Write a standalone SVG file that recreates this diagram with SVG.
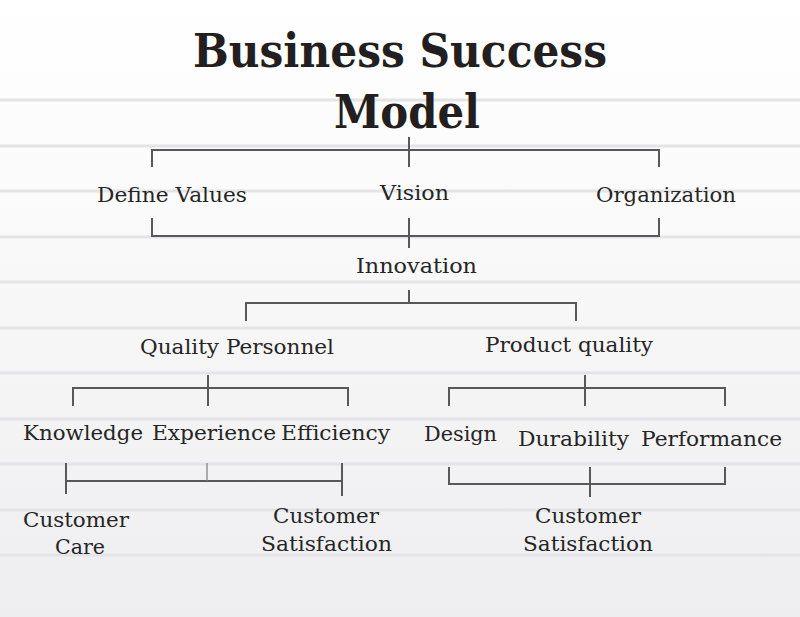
<svg xmlns="http://www.w3.org/2000/svg" width="800" height="617" viewBox="0 0 800 617">
<defs>
<linearGradient id="bg" x1="0" y1="0" x2="0" y2="1">
<stop offset="0" stop-color="#ffffff"/>
<stop offset="0.35" stop-color="#fafafa"/>
<stop offset="1" stop-color="#eeedef"/>
</linearGradient>
</defs>
<style>
.rule{stroke:#e4e4e6;stroke-width:3}
.c{stroke:#58585a;stroke-width:2;fill:none}
.thin{stroke:#7a7a7c;stroke-width:1.2;fill:none}
.t{font-family:"DejaVu Serif","Liberation Serif",serif;font-size:20px;fill:#252525}
.l{font-size:21px}
.title{font-family:"DejaVu Serif","Liberation Serif",serif;font-size:47px;font-weight:bold;fill:#231f20}
</style>
<rect width="800" height="617" fill="url(#bg)"/>
<g id="paper-lines">
<line class="rule" x1="0" y1="100" x2="800" y2="100"/>
<line class="rule" x1="0" y1="146" x2="800" y2="146"/>
<line class="rule" x1="0" y1="191" x2="800" y2="191"/>
<line class="rule" x1="0" y1="237" x2="800" y2="237"/>
<line class="rule" x1="0" y1="282" x2="800" y2="282"/>
<line class="rule" x1="0" y1="328" x2="800" y2="328"/>
<line class="rule" x1="0" y1="373" x2="800" y2="373"/>
<line class="rule" x1="0" y1="419" x2="800" y2="419"/>
<line class="rule" x1="0" y1="464" x2="800" y2="464"/>
<line class="rule" x1="0" y1="510" x2="800" y2="510"/>
<line class="rule" x1="0" y1="555" x2="800" y2="555"/>
</g>
<g id="connectors">
<path class="c" d="M409 137V150M152 167V150H659V167M409 150V167"/>
<path class="c" d="M152 218V236H659V218M409 218V248"/>
<path class="c" d="M409 290V303M246 321V303H576V321"/>
<path class="c" d="M208 375V406M73 406V388H348V406"/>
<path class="c" d="M585 375V406M449 406V388H725V406"/>
<path class="c" d="M66 463V494M66 481H342M342 463V496"/>
<path class="thin" d="M207 463V481"/>
<path class="c" d="M449 467V484H725V467M590 467V497"/>
</g>
<g id="title"><text class="title" x="193" y="67" textLength="414" lengthAdjust="spacingAndGlyphs">Business Success</text><text class="title" x="334" y="128" textLength="146" lengthAdjust="spacingAndGlyphs">Model</text></g>
<g id="define-values"><text class="t" x="97" y="202" textLength="150" lengthAdjust="spacingAndGlyphs">Define Values</text></g>
<g id="vision"><text class="t" x="380" y="200" textLength="69" lengthAdjust="spacingAndGlyphs">Vision</text></g>
<g id="organization"><text class="t" x="596" y="202" textLength="140" lengthAdjust="spacingAndGlyphs">Organization</text></g>
<g id="innovation"><text class="t" x="356" y="273" textLength="121" lengthAdjust="spacingAndGlyphs">Innovation</text></g>
<g id="quality-personnel"><text class="t" x="140" y="354" textLength="194" lengthAdjust="spacingAndGlyphs">Quality Personnel</text></g>
<g id="product-quality"><text class="t" x="485" y="352" textLength="168" lengthAdjust="spacingAndGlyphs">Product quality</text></g>
<g id="knowledge"><text class="t l" x="23" y="440" textLength="120" lengthAdjust="spacingAndGlyphs">Knowledge</text></g>
<g id="experience"><text class="t l" x="152" y="440" textLength="124" lengthAdjust="spacingAndGlyphs">Experience</text></g>
<g id="efficiency"><text class="t l" x="281" y="440" textLength="109" lengthAdjust="spacingAndGlyphs">Efficiency</text></g>
<g id="design"><text class="t l" x="424" y="441" textLength="73" lengthAdjust="spacingAndGlyphs">Design</text></g>
<g id="durability"><text class="t l" x="518" y="446" textLength="111" lengthAdjust="spacingAndGlyphs">Durability</text></g>
<g id="performance"><text class="t l" x="641" y="446" textLength="141" lengthAdjust="spacingAndGlyphs">Performance</text></g>
<g id="customer-care"><text class="t" x="23" y="527" textLength="106" lengthAdjust="spacingAndGlyphs">Customer</text><text class="t" x="55" y="554" textLength="50" lengthAdjust="spacingAndGlyphs">Care</text></g>
<g id="customer-satisfaction-1"><text class="t" x="273" y="523" textLength="106" lengthAdjust="spacingAndGlyphs">Customer</text><text class="t" x="261" y="551" textLength="131" lengthAdjust="spacingAndGlyphs">Satisfaction</text></g>
<g id="customer-satisfaction-2"><text class="t" x="535" y="523" textLength="106" lengthAdjust="spacingAndGlyphs">Customer</text><text class="t" x="523" y="551" textLength="130" lengthAdjust="spacingAndGlyphs">Satisfaction</text></g>
</svg>
